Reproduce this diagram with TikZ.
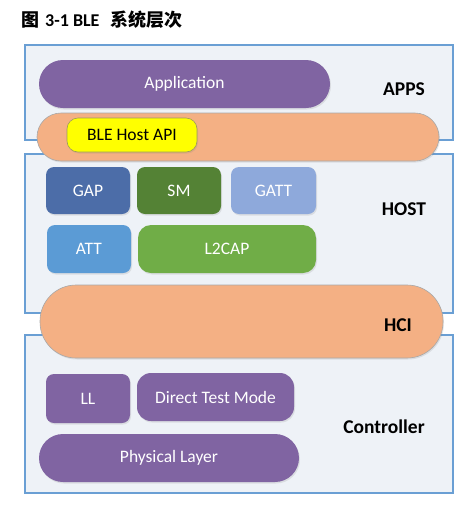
\documentclass[tikz,border=0pt]{standalone}
\usepackage{fontspec}
\setmainfont{Carlito}
\newfontfamily\cjk{Noto Sans CJK SC}
\usetikzlibrary{shadows}
\definecolor{boxfill}{HTML}{EEF2F7}
\definecolor{boxline}{HTML}{6A9FD4}
\definecolor{purp}{HTML}{8064A2}
\definecolor{orng}{HTML}{F4B084}
\definecolor{orngline}{HTML}{A8A8A8}
\definecolor{yel}{HTML}{FFFF00}
\definecolor{yelline}{HTML}{9C9C5A}
\definecolor{gapc}{HTML}{4C6DA8}
\definecolor{smc}{HTML}{548235}
\definecolor{gattc}{HTML}{8EA9DB}
\definecolor{attc}{HTML}{5B9BD5}
\definecolor{l2c}{HTML}{70AD47}
\tikzset{
  layerbox/.style={draw=boxline, line width=1.8pt, fill=boxfill},
  blk/.style={rectangle, inner sep=0pt, text=white, font=\fontsize{17.5}{20}\selectfont,
    drop shadow={opacity=0.18, shadow xshift=1pt, shadow yshift=-1.5pt}},
  lab/.style={font=\fontsize{19.5}{22}\selectfont\bfseries, text=black},
}
\begin{document}
\begin{tikzpicture}[x=1pt,y=-1pt]
\useasboundingbox (0,0) rectangle (474,512);
% title
\node[anchor=west, inner sep=0pt, font=\fontsize{18}{20}\selectfont\cjk\bfseries] (t1) at (21,20) {图};
\node[anchor=west, inner sep=0pt, font=\fontsize{18}{20}\selectfont\bfseries] (t2) at (45,20.5) {3-1 BLE};
\node[anchor=west, inner sep=0pt, font=\fontsize{18}{20}\selectfont\cjk\bfseries] (t3) at (110,20) {系统层次};
% layer boxes
\draw[layerbox] (25,45) rectangle (453,140);
\draw[layerbox] (25,154) rectangle (453,313);
\draw[layerbox] (25,335) rectangle (453,493);
% APPS
\node[blk, fill=purp, rounded corners=24pt, minimum width=291pt, minimum height=48pt] (app) at (184.5,84) {Application};
\node[lab] (apps) at (404,89) {APPS};
\node[blk, fill=orng, draw=orngline, line width=0.6pt, rounded corners=24pt, minimum width=402pt, minimum height=48pt] (api) at (238,137) {};
\node[blk, fill=yel, draw=yelline, line width=0.6pt, text=black, rounded corners=11pt, minimum width=130pt, minimum height=34pt] (bleapi) at (132,135) {BLE Host API};
% HOST
\node[blk, fill=gapc, rounded corners=8pt, minimum width=84pt, minimum height=47pt] (gap) at (88,190.5) {GAP};
\node[blk, fill=smc, rounded corners=8pt, minimum width=84pt, minimum height=47pt] (sm) at (179,190.5) {SM};
\node[blk, fill=gattc, rounded corners=8pt, minimum width=85pt, minimum height=47pt] (gatt) at (273.5,190.5) {GATT};
\node[blk, fill=attc, rounded corners=8pt, minimum width=84pt, minimum height=48pt] (att) at (89,249) {ATT};
\node[blk, fill=l2c, rounded corners=13pt, minimum width=178pt, minimum height=48pt] (l2cap) at (227,249) {L2CAP};
\node[lab] (host) at (404,209) {HOST};
% HCI
\node[blk, fill=orng, draw=orngline, line width=0.6pt, rounded corners=36pt, minimum width=403pt, minimum height=73pt] (hcib) at (241.5,321.5) {};
\node[lab] (hci) at (398,325) {HCI};
% Controller
\node[blk, fill=purp, rounded corners=8pt, minimum width=84pt, minimum height=49pt] (ll) at (88,398.5) {LL};
\node[blk, fill=purp, rounded corners=14pt, minimum width=157pt, minimum height=48pt] (dtm) at (215.5,397) {Direct Test Mode};
\node[blk, fill=purp, rounded corners=24pt, minimum width=260pt, minimum height=48pt] (phy) at (169,458) {Physical Layer};
\node[lab] (ctrl) at (384,427) {Controller};
\end{tikzpicture}
\end{document}
